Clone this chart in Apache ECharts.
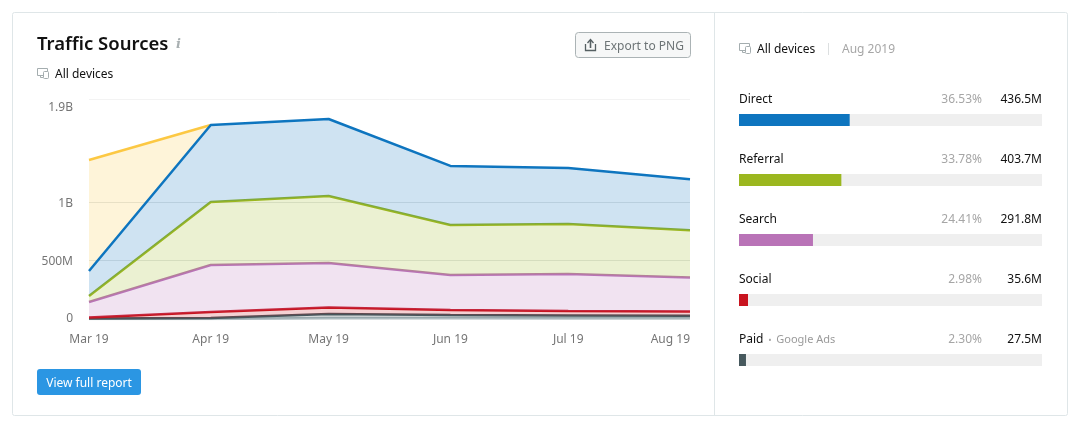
<!DOCTYPE html>
<html>
<head>
<meta charset="utf-8">
<title>Traffic Sources</title>
<script src="https://cdn.jsdelivr.net/npm/echarts@6/dist/echarts.min.js"></script>
<style>
  html, body { margin: 0; padding: 0; background: #fff; }
  #main { width: 1081px; height: 426px; }
</style>
</head>
<body>
<div id="main"></div>
<script>
// trend chart, values in millions
var months = ['2019-03-01', '2019-04-01', '2019-05-01', '2019-06-01', '2019-07-01', '2019-08-01'];
var monthLabels = ['Mar 19', 'Apr 19', 'May 19', 'Jun 19', 'Jul 19', 'Aug 19'];
var otherValues = [0, 1, 8, 8, 7, 7];
var paidValues = [5, 8, 35, 26, 23, 20.5];
var socialValues = [8, 51, 55, 43, 38, 35.6];
var searchValues = [132, 402, 381, 299, 317, 291.8];
var referralValues = [52, 538, 572, 427, 427, 403.7];
var directValues = [213, 658, 658, 505, 479, 436.5];
var mailValues = [949, 0, null, null, null, null];

var yTicks = [0, 500, 1000, 1880];
var yTickLabels = ['0', '500M', '1B', '1.9B'];

// right panel, Aug 2019
var sourceNames = ['Direct', 'Referral', 'Search', 'Social', 'Paid'];
var sourceNotes = ['', '', '', '', 'Google Ads'];
var sourceShares = [36.53, 33.78, 24.41, 2.98, 2.30];
var sourceTotals = ['436.5M', '403.7M', '291.8M', '35.6M', '27.5M'];
var sourceColors = ['#0e75bf', '#9bb71f', '#b973b7', '#c8141f', '#46585d'];

var FONT = '"Noto Sans", sans-serif';

// months are spaced by their real length, so x is a timestamp
var monthTimes = months.map(function (m) { return Date.parse(m); });

// value comes first: the stack adds up the first numeric dimension
function pairs(values) {
  return values.map(function (v, i) { return [v, monthTimes[i]]; });
}

function areaSeries(name, values, color, z) {
  return {
    name: name,
    type: 'line',
    stack: 'total',
    encode: { x: 1, y: 0 },
    data: pairs(values),
    xAxisIndex: 0,
    yAxisIndex: 0,
    z: z,
    symbol: 'none',
    silent: true,
    lineStyle: { color: color, width: 2.5 },
    itemStyle: { color: color },
    areaStyle: { color: color, opacity: 0.2 }
  };
}

function text(x, y, str, size, color, extra) {
  var style = { x: x, y: y + 2, text: str, font: size + 'px ' + FONT, fill: color, verticalAlign: 'middle' };
  for (var k in extra) style[k] = extra[k];
  return { type: 'text', silent: true, z: 10, style: style };
}

function box(x, y, w, h, fill, stroke, r) {
  return {
    type: 'rect', silent: true, z: 5,
    shape: { x: x, y: y, width: w, height: h, r: r || 0 },
    style: { fill: fill, stroke: stroke, lineWidth: 1 }
  };
}

function stroke(points, color, width) {
  return {
    type: 'polyline', silent: true, z: 10,
    shape: { points: points },
    style: { fill: 'none', stroke: color, lineWidth: width }
  };
}

function deviceIcon(x, y) {
  return [
    stroke([[x + 6, y + 7.5], [x + 0.5, y + 7.5], [x + 0.5, y + 0.5], [x + 10.5, y + 0.5], [x + 10.5, y + 3.5]], '#a4adaf', 1),
    stroke([[x + 3.5, y + 7.5], [x + 3.5, y + 9.5], [x + 6, y + 9.5]], '#a4adaf', 1),
    box(x + 6.5, y + 3.5, 5, 7, '#fff', '#a4adaf', 1)
  ];
}

var decorations = [
  box(12.5, 12.5, 1055, 403, 'none', '#dfe6e8', 2),
  { type: 'line', silent: true, z: 6, shape: { x1: 714.5, y1: 13, x2: 714.5, y2: 415 }, style: { stroke: '#dfe6e8', lineWidth: 1 } },
  text(37, 43, 'Traffic Sources', 18.5, '#111', { font: '600 18.5px ' + FONT }),
  text(176, 43, 'i', 13, '#a9b0b2', { font: 'italic bold 13px "DejaVu Serif", serif' }),
  text(55, 73, 'All devices', 12, '#111'),
  box(575.5, 32.5, 115, 25, '#f6f7f7', '#abb3b5', 3),
  stroke([[585.5, 44], [585.5, 50.5], [595.5, 50.5], [595.5, 44]], '#555f62', 1.3),
  stroke([[590.5, 48], [590.5, 40]], '#555f62', 1.6),
  stroke([[587.5, 43], [590.5, 39.5], [593.5, 43]], '#555f62', 1.3),
  text(604, 45, 'Export to PNG', 12, '#6d7476'),
  box(37, 369, 104, 26, '#2b96e3', null, 3),
  text(89, 382, 'View full report', 12, '#fff', { align: 'center' }),
  text(757, 48, 'All devices', 12, '#111'),
  { type: 'line', silent: true, z: 6, shape: { x1: 828.5, y1: 43, x2: 828.5, y2: 55 }, style: { stroke: '#dcdfe0', lineWidth: 1 } },
  text(842, 48, 'Aug 2019', 12, '#a6a6a6')
].concat(deviceIcon(37, 68), deviceIcon(739, 43));

var option = {
  animation: false,
  backgroundColor: '#fff',
  textStyle: { fontFamily: FONT },
  graphic: { elements: decorations },
  grid: [
    { left: 89, top: 99, width: 601, height: 220 },
    { left: 739, top: 90, width: 303, height: 300 }
  ],
  xAxis: [
    {
      gridIndex: 0,
      type: 'value',
      min: monthTimes[0],
      max: monthTimes[5],
      axisLine: { show: false },
      axisTick: { show: false },
      splitLine: { show: false },
      axisLabel: {
        customValues: monthTimes,
        formatter: function (v) { return monthLabels[monthTimes.indexOf(v)]; },
        alignMaxLabel: 'right',
        color: '#757575',
        fontSize: 12,
        fontFamily: FONT,
        margin: 15
      }
    },
    {
      gridIndex: 1,
      type: 'value',
      min: 0,
      max: 100,
      show: false
    }
  ],
  yAxis: [
    {
      gridIndex: 0,
      type: 'value',
      min: 0,
      max: 1880,
      axisLine: { show: false },
      axisTick: { show: false, customValues: yTicks },
      splitLine: { show: true, lineStyle: { color: ['#e4e7e7', '#e4e7e7', '#e4e7e7', '#f3f3f3'], width: 1 } },
      axisLabel: {
        customValues: yTicks,
        formatter: function (v) {
          var i = yTicks.indexOf(v);
          var style = 'mid';
          if (i === 0) style = 'low';
          if (i === yTicks.length - 1) style = 'top';
          return '{' + style + '|' + yTickLabels[i] + '}';
        },
        verticalAlignMaxLabel: 'top',
        margin: 16,
        rich: {
          top: { color: '#757575', fontSize: 12, fontFamily: FONT, padding: [3, 0, 0, 0] },
          mid: { color: '#757575', fontSize: 12, fontFamily: FONT, padding: [3, 0, 0, 0] },
          low: { color: '#757575', fontSize: 12, fontFamily: FONT }
        }
      }
    },
    {
      gridIndex: 1,
      type: 'category',
      inverse: true,
      data: sourceNames,
      show: false
    }
  ],
  series: [
    areaSeries('Other', otherValues, '#aebcc0', 2),
    areaSeries('Paid', paidValues, '#46585d', 3),
    areaSeries('Social', socialValues, '#c8141f', 4),
    areaSeries('Search', searchValues, '#b973b7', 5),
    areaSeries('Referral', referralValues, '#9bb71f', 6),
    areaSeries('Direct', directValues, '#0e75bf', 7),
    areaSeries('Mail', mailValues, '#fcc843', 1),
    {
      // grey track, carries the share and total on the right
      type: 'bar',
      xAxisIndex: 1,
      yAxisIndex: 1,
      silent: true,
      barWidth: 12,
      barGap: '-100%',
      itemStyle: { color: '#efefef' },
      data: sourceNames.map(function () { return 100; }),
      label: {
        show: true,
        position: ['100%', -14],
        align: 'right',
        verticalAlign: 'middle',
        formatter: function (p) {
          return '{pct|' + sourceShares[p.dataIndex].toFixed(2) + '%}{val|' + sourceTotals[p.dataIndex] + '}';
        },
        rich: {
          pct: { color: '#a6a6a6', fontSize: 12, fontFamily: FONT },
          val: { color: '#111', fontSize: 12, fontFamily: FONT, width: 60, align: 'right' }
        }
      }
    },
    {
      type: 'bar',
      xAxisIndex: 1,
      yAxisIndex: 1,
      silent: true,
      barWidth: 12,
      z: 3,
      data: sourceShares.map(function (v, i) {
        return { value: v, itemStyle: { color: sourceColors[i] } };
      }),
      label: {
        show: true,
        position: [0, -14],
        align: 'left',
        verticalAlign: 'middle',
        formatter: function (p) {
          var note = sourceNotes[p.dataIndex];
          return '{name|' + sourceNames[p.dataIndex] + '}' + (note ? '{dot|  •  }{note|' + note + '}' : '');
        },
        rich: {
          name: { color: '#111', fontSize: 12, fontFamily: FONT },
          dot: { color: '#a6a6a6', fontSize: 9, fontFamily: FONT },
          note: { color: '#9a9a9a', fontSize: 11, fontFamily: FONT }
        }
      }
    }
  ]
};

var chart = echarts.init(document.getElementById('main'));
chart.setOption(option);
</script>
</body>
</html>
